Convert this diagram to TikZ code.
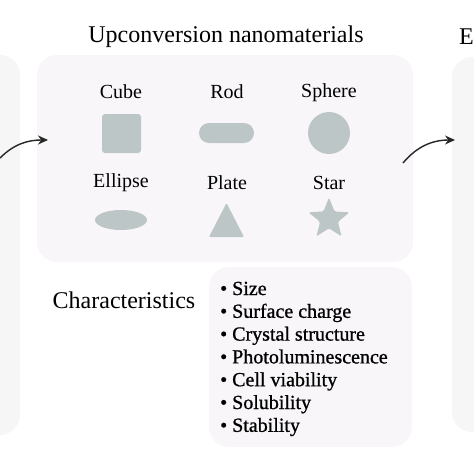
\documentclass[tikz,border=0pt]{standalone}
\usepackage{fontspec}
\setmainfont{Liberation Serif}
\newfontfamily\heavyserif[FakeBold=0.9]{Liberation Serif}
\usetikzlibrary{arrows.meta,shapes.geometric}
\definecolor{panelfill}{RGB}{248,246,249}
\definecolor{sidefill}{RGB}{246,246,247}
\definecolor{shapefill}{RGB}{189,198,199}
\tikzstyle{particle} = [fill=shapefill, draw=none, inner sep=0pt]
\tikzstyle{label} = [inner sep=0pt, font=\fontsize{20}{22}\selectfont]
\tikzstyle{item} = [inner sep=0pt, font=\heavyserif\fontsize{20}{22}\selectfont]
\tikzstyle{heading} = [inner sep=0pt, font=\fontsize{24}{26}\selectfont]
\tikzset{edge/.style = {
    >=Stealth,
    -{Stealth[length=10pt,width=9pt]},
    line width=1.4pt,
    black!85,
  }
}

\begin{document}
\begin{tikzpicture}[x=1pt, y=-1pt]
            \useasboundingbox (0,0) rectangle (474,474);
            % panels
            \fill[sidefill, rounded corners=20pt] (-40,55) rectangle (20,435);
            \fill[sidefill, rounded corners=20pt] (452,57) rectangle (520,432);
            \fill[panelfill, rounded corners=20pt] (37,55) rectangle (413,262);
            \fill[panelfill, rounded corners=20pt] (209,267) rectangle (412,447);

            % titles
            \node[heading] (title) at (226,37) {Upconversion nanomaterials};
            \node[heading, anchor=west] (next) at (459,37) {E};
            \node[heading] (charac) at (124,300) {Characteristics};

            % shapes
            \node[label] (lcube) at (121,92) {Cube};
            \node[label] (lrod) at (227,92) {Rod};
            \node[label] (lsphere) at (329,93) {Sphere};
            \node[label] (lellipse) at (121,183) {Ellipse};
            \node[label] (lplate) at (227,183) {Plate};
            \node[label] (lstar) at (329,183) {Star};
            \node[particle, rectangle, minimum size=39pt, rounded corners=3pt] (cube) at (121.5,133.5) {};
            \node[particle, rectangle, minimum width=55pt, minimum height=20pt, rounded corners=10pt] (rod) at (226.5,133) {};
            \node[particle, circle, minimum size=42pt] (sphere) at (329,133) {};
            \node[particle, ellipse, minimum width=52pt, minimum height=20pt] (ellipse) at (121,220) {};
            \fill[shapefill, rounded corners=1pt] (226.5,203) -- (244,237) -- (209,237) -- cycle;
            \node[particle, star, star points=5, star point ratio=2.3, minimum size=43pt, rounded corners=1.5pt] (star) at (329,219) {};

            % properties
            \foreach \prop [count=\i] in {Size, Surface charge, Crystal structure, Photoluminescence, Cell viability, Solubility, Stability}
              \node[item, anchor=base west] (prop\i) at (220,{289+6+(\i-1)*22.8}) {\textbullet\ \prop};

            % arrows
            \coordinate (a1) at (0,158);
            \coordinate (a2) at (48,140);
            \coordinate (b1) at (403,163);
            \coordinate (b2) at (455,140);
            \draw[edge] (a1) to[out=45, in=180] (a2);
            \draw[edge] (b1) to[out=50, in=180] (b2);
\end{tikzpicture}
\end{document}
